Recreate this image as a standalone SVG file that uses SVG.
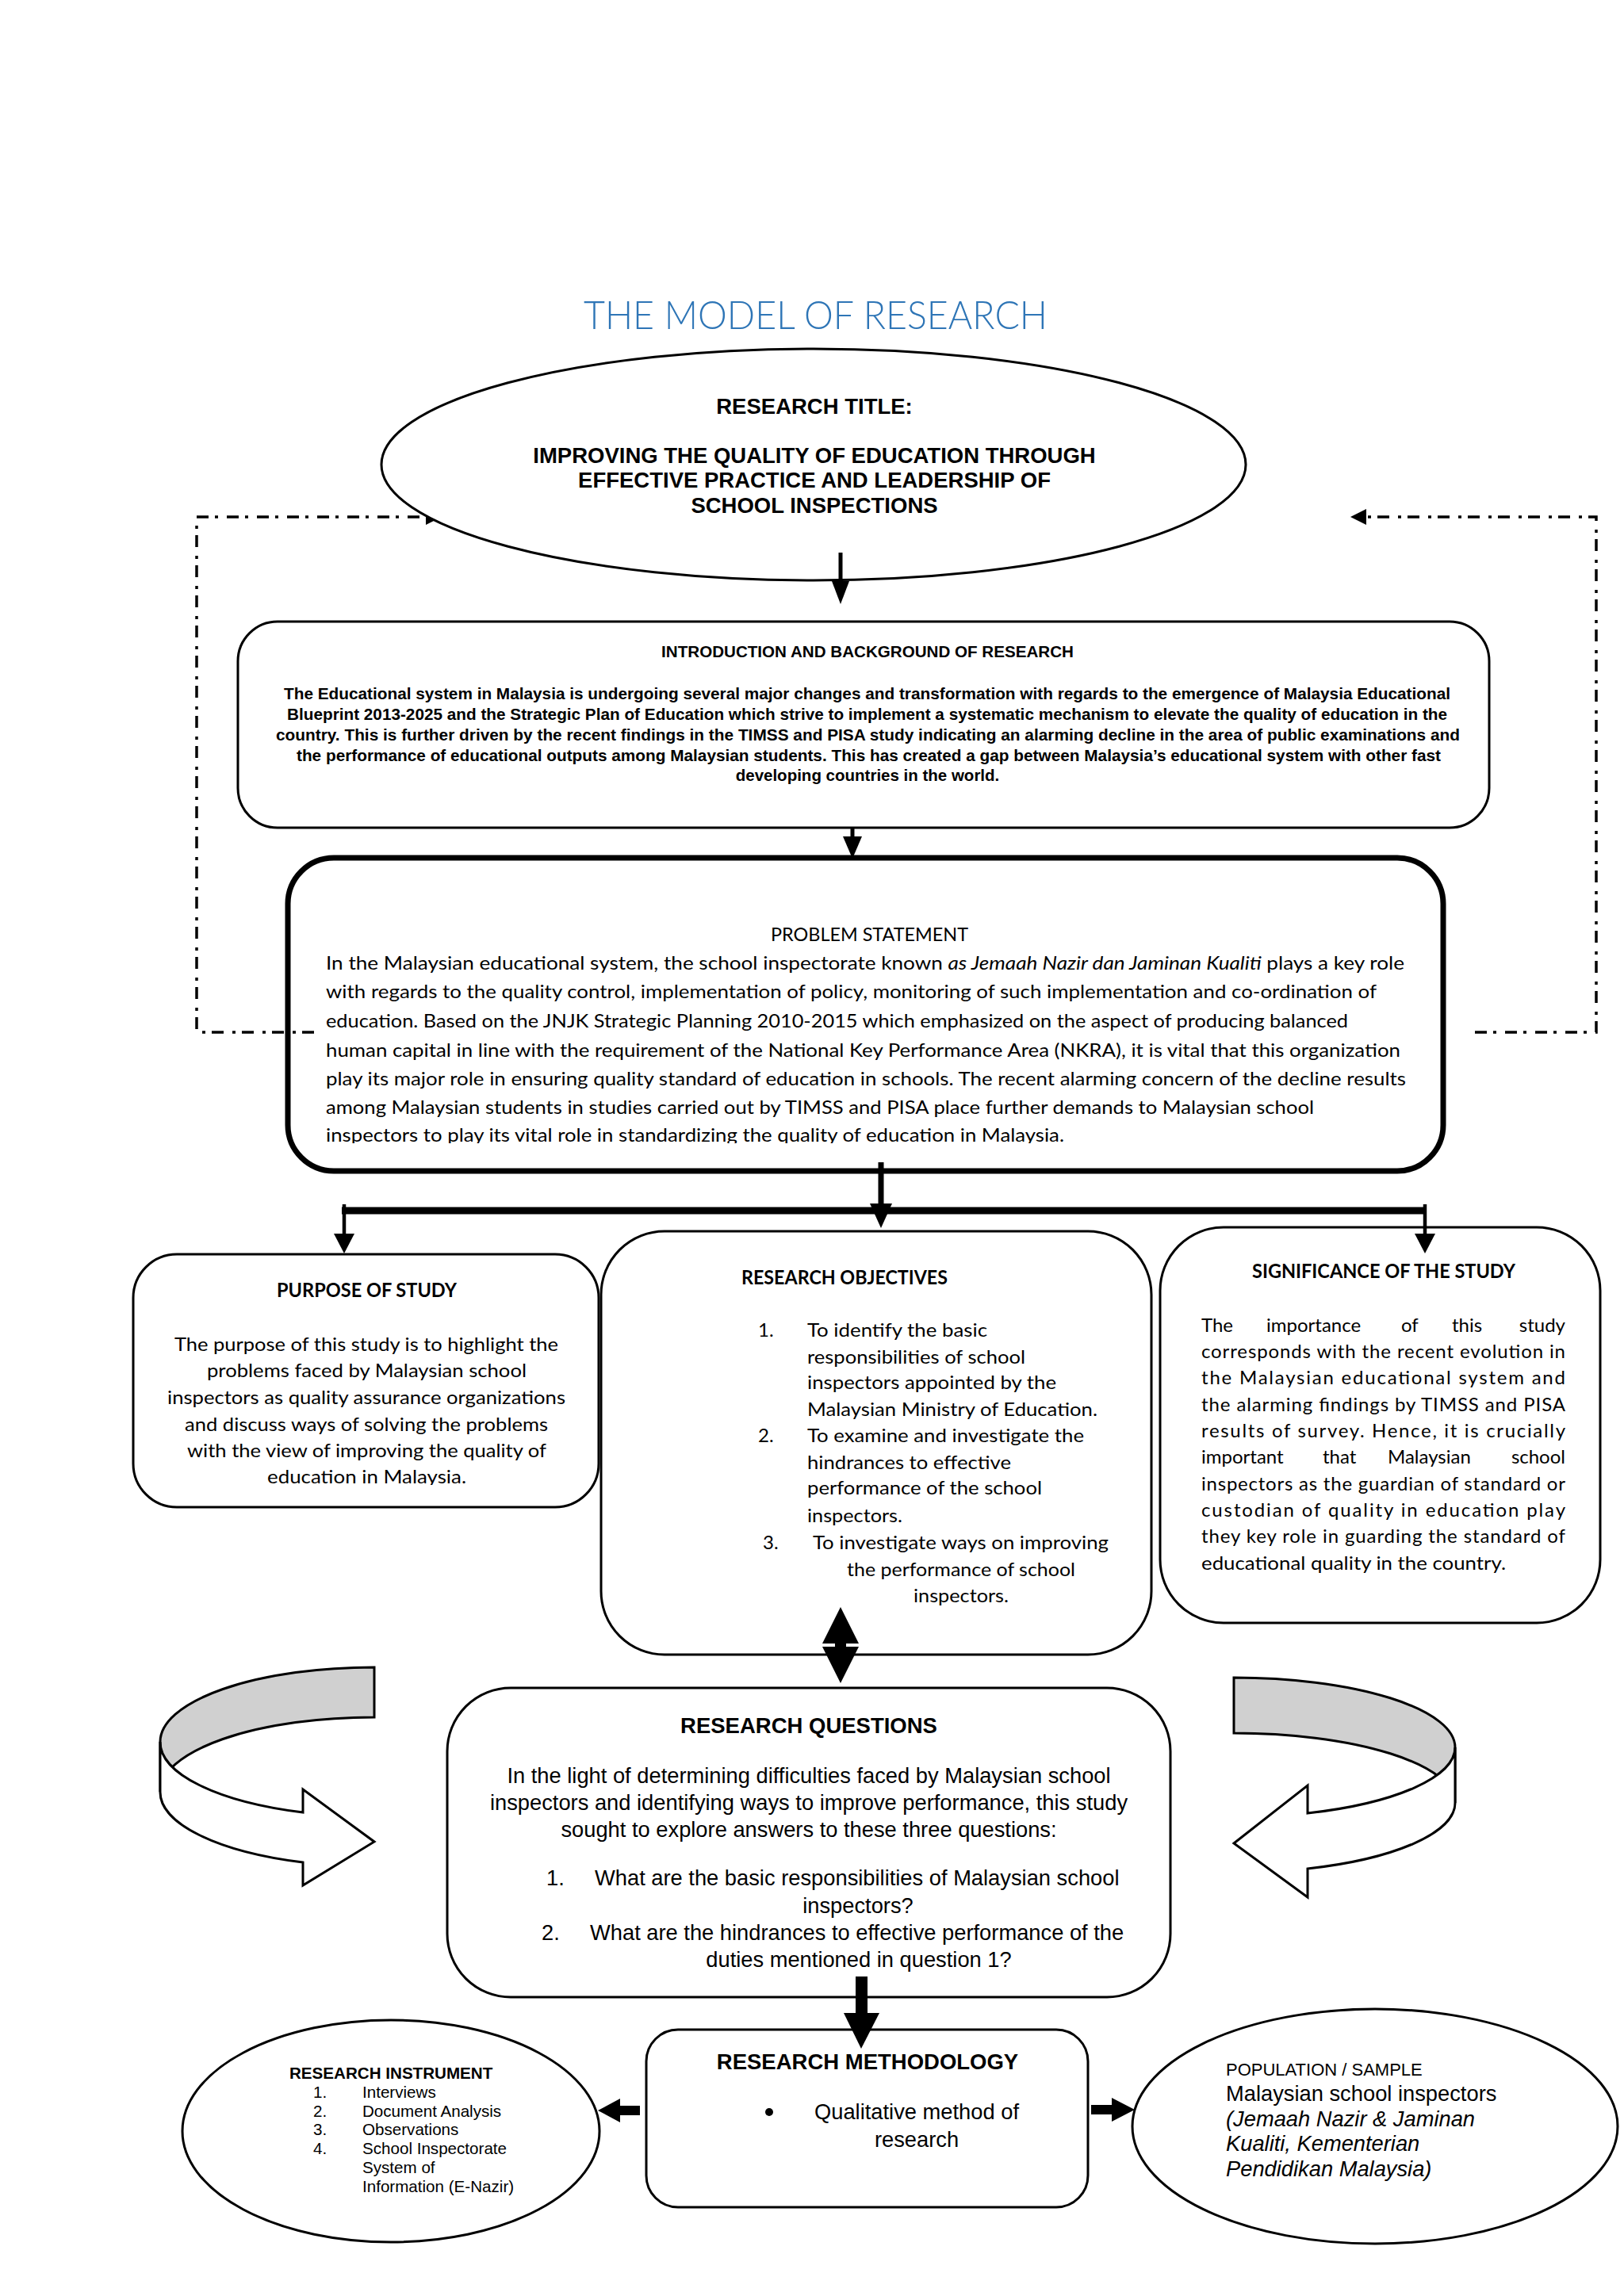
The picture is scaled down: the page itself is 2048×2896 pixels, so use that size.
<svg xmlns="http://www.w3.org/2000/svg" width="2048" height="2896" viewBox="0 0 2048 2896">
<style>
.box{fill:#fff;stroke:#000;stroke-width:3}
.ar{font-family:"Liberation Sans",Arial,sans-serif;fill:#000}
.b{font-weight:bold}
.it{font-style:italic}
.cal{font-family:Lato,"Liberation Sans",sans-serif;fill:#000}
.mid{text-anchor:middle}
.end{text-anchor:end}
.dd{fill:none;stroke:#000;stroke-width:3.5;stroke-dasharray:15 8 4 11}
.ln{stroke:#000;fill:none}
.hd{fill:#000;stroke:none}
.shape{stroke:#000;stroke-width:3;stroke-linejoin:miter}
</style>
<defs>
<marker id="dh" viewBox="0 0 20 20" refX="0" refY="10" markerWidth="20" markerHeight="20" markerUnits="userSpaceOnUse" orient="auto">
<path d="M0,0 L20,10 L0,20 Z" fill="#000"/>
</marker>
<clipPath id="cpProb"><rect x="360" y="1090" width="1465" height="352"/></clipPath>
<clipPath id="cpPurp"><rect x="168" y="1590" width="580" height="283"/></clipPath>
</defs>
<rect width="2048" height="2896" fill="#fff"/>

<text x="736" y="415" class="cal" font-size="50" font-weight="300" fill="#2E75B6" style="fill:#2E75B6" textLength="585" lengthAdjust="spacingAndGlyphs">THE MODEL OF RESEARCH</text>

<g id="connectors">
<path class="dd" d="M396,1302 H248 V652 H537" marker-end="url(#dh)"/>
<path class="dd" d="M1860,1302 H2013 V652 H1723" marker-end="url(#dh)"/>
</g>

<g id="title-node">
<ellipse class="box" cx="1026" cy="586" rx="545" ry="146"/>
<text class="ar b mid" x="1027" y="522" font-size="27.5">RESEARCH TITLE:</text>
<text class="ar b mid" x="1027" y="584" font-size="27.5">IMPROVING THE QUALITY OF EDUCATION THROUGH</text>
<text class="ar b mid" x="1027" y="615" font-size="27.5">EFFECTIVE PRACTICE AND LEADERSHIP OF</text>
<text class="ar b mid" x="1027" y="647" font-size="27.5">SCHOOL INSPECTIONS</text>
</g>

<g id="intro-node">
<rect class="box" x="300" y="784" width="1578" height="260" rx="50"/>
<text class="ar b mid" x="1094" y="829" font-size="20.6">INTRODUCTION AND BACKGROUND OF RESEARCH</text>
<text class="ar b" x="358" y="882" font-size="20.5" textLength="1471" lengthAdjust="spacingAndGlyphs">The Educational system in Malaysia is undergoing several major changes and transformation with regards to the emergence of Malaysia Educational</text>
<text class="ar b" x="362" y="908" font-size="20.5" textLength="1463" lengthAdjust="spacingAndGlyphs">Blueprint 2013-2025 and the Strategic Plan of Education which strive to implement a systematic mechanism to elevate the quality of education in the</text>
<text class="ar b" x="348" y="934" font-size="20.5" textLength="1493" lengthAdjust="spacingAndGlyphs">country. This is further driven by the recent findings in the TIMSS and PISA study indicating an alarming decline in the area of public examinations and</text>
<text class="ar b" x="374" y="960" font-size="20.5" textLength="1443" lengthAdjust="spacingAndGlyphs">the performance of educational outputs among Malaysian students. This has created a gap between Malaysia’s educational system with other fast</text>
<text class="ar b mid" x="1094" y="985" font-size="20.5">developing countries in the world.</text>
</g>

<g id="problem-node">
<rect x="363" y="1082" width="1457" height="395" rx="58" fill="none" stroke="#000" stroke-width="7"/>
<text class="cal" x="972" y="1187" font-size="24" textLength="249" lengthAdjust="spacingAndGlyphs">PROBLEM STATEMENT</text>
<g clip-path="url(#cpProb)">
<text class="cal" x="411" y="1223" font-size="24" textLength="1360" lengthAdjust="spacingAndGlyphs">In the Malaysian educational system, the school inspectorate known <tspan class="it">as Jemaah Nazir dan Jaminan Kualiti</tspan> plays a key role</text>
<text class="cal" x="411" y="1259" font-size="24" textLength="1325" lengthAdjust="spacingAndGlyphs">with regards to the quality control, implementation of policy, monitoring of such implementation and co-ordination of</text>
<text class="cal" x="411" y="1296" font-size="24" textLength="1289" lengthAdjust="spacingAndGlyphs">education. Based on the JNJK Strategic Planning 2010-2015 which emphasized on the aspect of producing balanced</text>
<text class="cal" x="411" y="1333" font-size="24" textLength="1355" lengthAdjust="spacingAndGlyphs">human capital in line with the requirement of the National Key Performance Area (NKRA), it is vital that this organization</text>
<text class="cal" x="411" y="1369" font-size="24" textLength="1362" lengthAdjust="spacingAndGlyphs">play its major role in ensuring quality standard of education in schools. The recent alarming concern of the decline results</text>
<text class="cal" x="411" y="1405" font-size="24" textLength="1246" lengthAdjust="spacingAndGlyphs">among Malaysian students in studies carried out by TIMSS and PISA place further demands to Malaysian school</text>
<text class="cal" x="411" y="1440" font-size="24" textLength="931" lengthAdjust="spacingAndGlyphs">inspectors to play its vital role in standardizing the quality of education in Malaysia.</text>
</g>
</g>

<g id="purpose-node">
<rect class="box" x="168" y="1582" width="587" height="319" rx="55"/>
<text class="cal b" x="349" y="1636" font-size="24" textLength="227" lengthAdjust="spacingAndGlyphs">PURPOSE OF STUDY</text>
<g clip-path="url(#cpPurp)">
<text class="cal" x="220" y="1704" font-size="24" textLength="484" lengthAdjust="spacingAndGlyphs">The purpose of this study is to highlight the</text>
<text class="cal" x="261" y="1737" font-size="24" textLength="403" lengthAdjust="spacingAndGlyphs">problems faced by Malaysian school</text>
<text class="cal" x="211" y="1771" font-size="24" textLength="502" lengthAdjust="spacingAndGlyphs">inspectors as quality assurance organizations</text>
<text class="cal" x="233" y="1805" font-size="24" textLength="458" lengthAdjust="spacingAndGlyphs">and discuss ways of solving the problems</text>
<text class="cal" x="236" y="1838" font-size="24" textLength="453" lengthAdjust="spacingAndGlyphs">with the view of improving the quality of</text>
<text class="cal" x="337" y="1871" font-size="24" textLength="251" lengthAdjust="spacingAndGlyphs">education in Malaysia.</text>
</g>
</g>

<g id="objectives-node">
<rect class="box" x="758" y="1553" width="694" height="534" rx="80"/>
<text class="cal b" x="935" y="1620" font-size="24" textLength="260" lengthAdjust="spacingAndGlyphs">RESEARCH OBJECTIVES</text>
<text class="cal" x="956" y="1686" font-size="24">1.</text>
<text class="cal" x="1018" y="1686" font-size="24" textLength="227" lengthAdjust="spacingAndGlyphs">To identify the basic</text>
<text class="cal" x="1018" y="1720" font-size="24" textLength="275" lengthAdjust="spacingAndGlyphs">responsibilities of school</text>
<text class="cal" x="1018" y="1752" font-size="24" textLength="314" lengthAdjust="spacingAndGlyphs">inspectors appointed by the</text>
<text class="cal" x="1018" y="1786" font-size="24" textLength="366" lengthAdjust="spacingAndGlyphs">Malaysian Ministry of Education.</text>
<text class="cal" x="956" y="1819" font-size="24">2.</text>
<text class="cal" x="1018" y="1819" font-size="24" textLength="349" lengthAdjust="spacingAndGlyphs">To examine and investigate the</text>
<text class="cal" x="1018" y="1853" font-size="24" textLength="257" lengthAdjust="spacingAndGlyphs">hindrances to effective</text>
<text class="cal" x="1018" y="1885" font-size="24" textLength="296" lengthAdjust="spacingAndGlyphs">performance of the school</text>
<text class="cal" x="1018" y="1920" font-size="24" textLength="120" lengthAdjust="spacingAndGlyphs">inspectors.</text>
<text class="cal" x="962" y="1954" font-size="24">3.</text>
<text class="cal" x="1025" y="1954" font-size="24" textLength="373" lengthAdjust="spacingAndGlyphs">To investigate ways on improving</text>
<text class="cal" x="1068" y="1988" font-size="24" textLength="288" lengthAdjust="spacingAndGlyphs">the performance of school</text>
<text class="cal" x="1152" y="2021" font-size="24" textLength="120" lengthAdjust="spacingAndGlyphs">inspectors.</text>
</g>

<g id="significance-node">
<rect class="box" x="1463" y="1548" width="555" height="499" rx="80"/>
<text class="cal b" x="1579" y="1612" font-size="24" textLength="332" lengthAdjust="spacingAndGlyphs">SIGNIFICANCE OF THE STUDY</text>
<text class="cal" y="1680" font-size="24"><tspan x="1515">The</tspan><tspan x="1597">importance</tspan><tspan x="1767">of</tspan><tspan x="1831">this</tspan></text>
<text class="cal end" x="1974" y="1680" font-size="24">study</text>
<text class="cal" x="1515" y="1713" font-size="24" textLength="459" lengthAdjust="spacing">corresponds with the recent evolution in</text>
<text class="cal" x="1515" y="1746" font-size="24" textLength="459" lengthAdjust="spacing">the Malaysian educational system and</text>
<text class="cal" x="1515" y="1780" font-size="24" textLength="459" lengthAdjust="spacing">the alarming findings by TIMSS and PISA</text>
<text class="cal" x="1515" y="1813" font-size="24" textLength="459" lengthAdjust="spacing">results of survey. Hence, it is crucially</text>
<text class="cal" y="1846" font-size="24"><tspan x="1515">important</tspan><tspan x="1668">that</tspan><tspan x="1750">Malaysian</tspan></text>
<text class="cal end" x="1974" y="1846" font-size="24">school</text>
<text class="cal" x="1515" y="1880" font-size="24" textLength="459" lengthAdjust="spacing">inspectors as the guardian of standard or</text>
<text class="cal" x="1515" y="1913" font-size="24" textLength="459" lengthAdjust="spacing">custodian of quality in education play</text>
<text class="cal" x="1515" y="1946" font-size="24" textLength="459" lengthAdjust="spacing">they key role in guarding the standard of</text>
<text class="cal" x="1515" y="1980" font-size="24" textLength="384" lengthAdjust="spacingAndGlyphs">educational quality in the country.</text>
</g>

<g id="questions-node">
<rect class="box" x="564" y="2129" width="912" height="390" rx="80"/>
<text class="ar b mid" x="1020" y="2186" font-size="27.5">RESEARCH QUESTIONS</text>
<text class="ar mid" x="1020" y="2249" font-size="27.3">In the light of determining difficulties faced by Malaysian school</text>
<text class="ar mid" x="1020" y="2283" font-size="27.3">inspectors and identifying ways to improve performance, this study</text>
<text class="ar mid" x="1020" y="2317" font-size="27.3">sought to explore answers to these three questions:</text>
<text class="ar" x="689" y="2378" font-size="27.3">1.</text>
<text class="ar" x="750" y="2378" font-size="27.3">What are the basic responsibilities of Malaysian school</text>
<text class="ar mid" x="1082" y="2413" font-size="27.3">inspectors?</text>
<text class="ar" x="683" y="2447" font-size="27.3">2.</text>
<text class="ar" x="744" y="2447" font-size="27.3">What are the hindrances to effective performance of the</text>
<text class="ar mid" x="1083" y="2481" font-size="27.3">duties mentioned in question 1?</text>
</g>

<g id="methodology-node">
<rect class="box" x="815" y="2560" width="557" height="224" rx="40"/>
<text class="ar b mid" x="1094" y="2610" font-size="27.5">RESEARCH METHODOLOGY</text>
<circle cx="970" cy="2664" r="5" fill="#000"/>
<text class="ar mid" x="1156" y="2673" font-size="27.3">Qualitative method of</text>
<text class="ar mid" x="1156" y="2708" font-size="27.3">research</text>
</g>

<g id="instrument-node">
<ellipse class="box" cx="493" cy="2688" rx="263" ry="140"/>
<text class="ar b" x="365" y="2622" font-size="20.6">RESEARCH INSTRUMENT</text>
<text class="ar" x="395" y="2646" font-size="20.6">1.</text>
<text class="ar" x="457" y="2646" font-size="20.6">Interviews</text>
<text class="ar" x="395" y="2670" font-size="20.6">2.</text>
<text class="ar" x="457" y="2670" font-size="20.6">Document Analysis</text>
<text class="ar" x="395" y="2693" font-size="20.6">3.</text>
<text class="ar" x="457" y="2693" font-size="20.6">Observations</text>
<text class="ar" x="395" y="2717" font-size="20.6">4.</text>
<text class="ar" x="457" y="2717" font-size="20.6">School Inspectorate</text>
<text class="ar" x="457" y="2741" font-size="20.6">System of</text>
<text class="ar" x="457" y="2765" font-size="20.6">Information (E-Nazir)</text>
</g>

<g id="population-node">
<ellipse class="box" cx="1734" cy="2682" rx="306" ry="148"/>
<text class="ar" x="1546" y="2618" font-size="22">POPULATION / SAMPLE</text>
<text class="ar" x="1546" y="2650" font-size="27.3">Malaysian school inspectors</text>
<text class="ar it" x="1546" y="2682" font-size="27.3">(Jemaah Nazir &amp; Jaminan</text>
<text class="ar it" x="1546" y="2713" font-size="27.3">Kualiti, Kementerian</text>
<text class="ar it" x="1546" y="2745" font-size="27.3">Pendidikan Malaysia)</text>
</g>

<g id="curved-arrows">
<path class="shape" fill="#d0d0d0" d="M472,2103 A270 94 0 0 0 202,2197 L202,2260 A270 94 0 0 1 472,2166 Z"/>
<path class="shape" fill="#fff" d="M202,2197 A270 94 0 0 0 382,2286 L382,2257 L472,2323 L382,2378 L382,2349 A270 94 0 0 1 202,2260 Z"/>
<path class="shape" fill="#d0d0d0" d="M1556,2116 A279 88 0 0 1 1835,2204 L1835,2274 A279 88 0 0 0 1556,2186 Z"/>
<path class="shape" fill="#fff" d="M1835,2204 A279 88 0 0 1 1649,2287 L1649,2252 L1556,2325 L1649,2393 L1649,2357 A279 88 0 0 0 1835,2274 Z"/>
</g>

<g id="arrows">
<line class="ln" x1="1060" y1="697" x2="1060" y2="736" stroke-width="5"/>
<polygon class="hd" points="1049,733 1071,733 1060,762"/>
<line class="ln" x1="1075" y1="1044" x2="1075" y2="1058" stroke-width="5"/>
<polygon class="hd" points="1063,1055 1087,1055 1075,1083"/>
<line class="ln" x1="1111" y1="1466" x2="1111" y2="1522" stroke-width="7"/>
<line class="ln" x1="431" y1="1527" x2="1797" y2="1527" stroke-width="9"/>
<polygon class="hd" points="1097,1518 1125,1518 1111,1549"/>
<line class="ln" x1="434" y1="1519" x2="434" y2="1560" stroke-width="4.5"/>
<polygon class="hd" points="421,1556 447,1556 434,1581"/>
<line class="ln" x1="1797" y1="1519" x2="1797" y2="1560" stroke-width="4.5"/>
<polygon class="hd" points="1784,1556 1810,1556 1797,1581"/>
<polygon class="hd" points="1060,2027 1083,2073 1037,2073"/>
<rect class="hd" x="1053" y="2070" width="14" height="10"/>
<polygon class="hd" points="1037,2077 1083,2077 1060,2123"/>
<rect class="hd" x="1079" y="2493" width="15" height="48"/>
<polygon class="hd" points="1064,2539 1109,2539 1086,2584"/>
<polygon class="hd" points="807,2656 782,2656 782,2647 754,2662 782,2677 782,2668 807,2668"/>
<polygon class="hd" points="1376,2655 1402,2655 1402,2646 1431,2661 1402,2676 1402,2667 1376,2667"/>
</g>
</svg>
